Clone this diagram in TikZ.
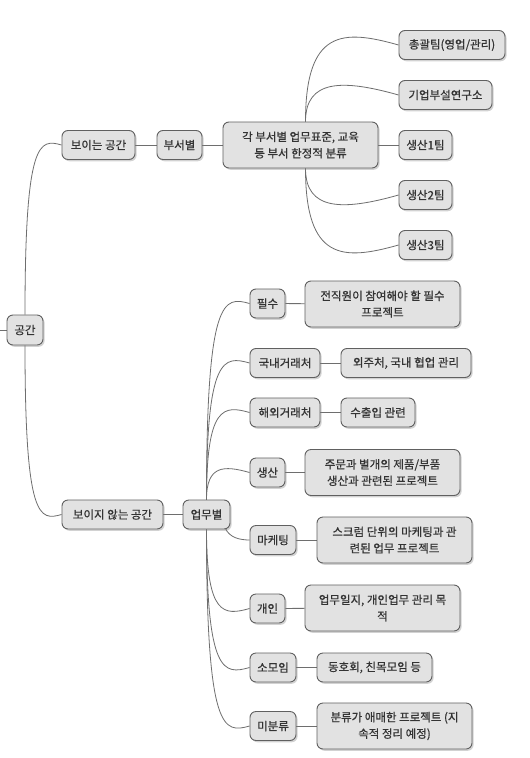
\documentclass[tikz,border=0pt]{standalone}
\usepackage{fontspec}
\setmainfont{Noto Sans CJK KR}[FakeBold=0.7]
\usetikzlibrary{calc,shadows,backgrounds}
\definecolor{boxfill}{HTML}{E2E2E2}
\definecolor{boxline}{HTML}{606060}
\definecolor{linkcol}{HTML}{6E6E6E}
\definecolor{txtcol}{HTML}{333333}
\tikzset{
  box/.style={draw=boxline, line width=0.9pt, fill=boxfill, rounded corners=6pt,
    text=txtcol, font=\fontsize{11.5}{16.5}\selectfont, align=center,
    inner sep=0pt, minimum height=29pt,
    drop shadow={opacity=0.35, shadow xshift=1.6pt, shadow yshift=-1.8pt}},
  tall/.style={box, minimum height=46pt},
  link/.style={draw=linkcol, line width=0.8pt},
}
\newcommand\mmlink[2]{%
  \draw[link] let \p1=(#1), \p2=(#2), \n1={0.17*abs(\x2-\x1)}, \n2={sign(\y2-\y1)*\n1} in
    (\p1) .. controls (\x1,{\y2+\n2}) and ({\x1+0.4*(\x2-\x1)},{\y2+\n2}) .. (\p2);}
\begin{document}
\begin{tikzpicture}[x=1pt,y=-1pt]
\useasboundingbox (0,0) rectangle (530,758);
% nodes
\node[box, minimum width=36pt, minimum height=30pt] (root) at (25,330) {공간};
\node[box, minimum width=73pt] (vis) at (98.5,145) {보이는 공간};
\node[box, minimum width=45pt] (dept) at (179.5,145) {부서별};
\node[tall, minimum width=155pt] (deptd) at (300.5,145) {각 부서별 업무표준, 교육\\등 부서 한정적 분류};
\node[box, minimum width=106pt] (t1) at (452,45) {총괄팀(영업/관리)};
\node[box, minimum width=93pt] (t2) at (445.5,95) {기업부설연구소};
\node[box, minimum width=53pt] (t3) at (425.5,145) {생산1팀};
\node[box, minimum width=53pt] (t4) at (425.5,195) {생산2팀};
\node[box, minimum width=53pt] (t5) at (425.5,245) {생산3팀};
\node[box, minimum width=101pt] (invis) at (112.5,514.5) {보이지 않는 공간};
\node[box, minimum width=47pt] (work) at (206.5,514.5) {업무별};
\node[box, minimum width=35pt] (c1) at (267.5,303.5) {필수};
\node[tall, minimum width=155pt] (d1) at (382.5,304) {전직원이 참여해야 할 필수\\프로젝트};
\node[box, minimum width=70pt] (c2) at (285,363) {국내거래처};
\node[box, minimum width=130pt] (d2) at (406,363) {외주처, 국내 협업 관리};
\node[box, minimum width=70pt] (c3) at (285,412.5) {해외거래처};
\node[box, minimum width=74pt] (d3) at (378,412.5) {수출입 관련};
\node[box, minimum width=35pt] (c4) at (267.5,472.5) {생산};
\node[tall, minimum width=155pt] (d4) at (382.5,472.5) {주문과 별개의 제품/부품\\생산과 관련된 프로젝트};
\node[box, minimum width=46pt] (c5) at (273,540) {마케팅};
\node[tall, minimum width=155pt] (d5) at (394.5,540) {스크럼 단위의 마케팅과 관\\련된 업무 프로젝트};
\node[box, minimum width=35pt] (c6) at (267.5,608.5) {개인};
\node[tall, minimum width=155pt] (d6) at (382.5,608) {업무일지, 개인업무 관리 목\\적};
\node[box, minimum width=46pt] (c7) at (273,667.5) {소모임};
\node[box, minimum width=115pt] (d7) at (374.5,667.5) {동호회, 친목모임 등};
\node[box, minimum width=46pt] (c8) at (273,726) {미분류};
\node[tall, minimum width=155pt] (d8) at (394.5,726) {분류가 애매한 프로젝트 (지\\속적 정리 예정)};
\coordinate (stub) at (0,330);
% connectors
\begin{scope}[on background layer]
\fill[white] (0,0) rectangle (530,758);
\draw[link] (stub) -- (root.west);
\mmlink{root.north}{vis.west}
\mmlink{root.south}{invis.west}
\draw[link] (vis) -- (dept);
\draw[link] (dept) -- (deptd);
\coordinate (dtop) at ($(deptd.north)+(5,0)$);
\coordinate (dbot) at ($(deptd.south)+(5,0)$);
\mmlink{dtop}{t1.west}
\mmlink{dtop}{t2.west}
\draw[link] (deptd) -- (t3);
\mmlink{dbot}{t4.west}
\mmlink{dbot}{t5.west}
\draw[link] (invis) -- (work);
\mmlink{work.north}{c1.west}
\mmlink{work.north}{c2.west}
\mmlink{work.north}{c3.west}
\mmlink{work.north}{c4.west}
\coordinate (wse) at ($(work.south east)+(-5,-1)$);
\draw[link] (wse) .. controls +(4,9) and ($(c5.west)+(-10,0)$) .. (c5.west);
\mmlink{work.south}{c6.west}
\mmlink{work.south}{c7.west}
\mmlink{work.south}{c8.west}
\draw[link] (c1) -- (d1);
\draw[link] (c2) -- (d2);
\draw[link] (c3) -- (d3);
\draw[link] (c4) -- (d4);
\draw[link] (c5) -- (d5);
\draw[link] (c6) -- (d6);
\draw[link] (c7) -- (d7);
\draw[link] (c8) -- (d8);
\end{scope}
\end{tikzpicture}
\end{document}
